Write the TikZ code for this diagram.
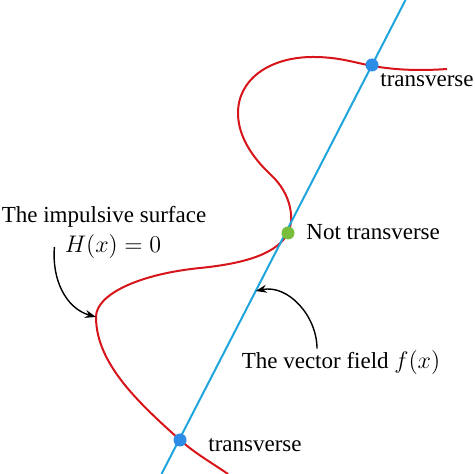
\documentclass[tikz,border=0pt]{standalone}
\usepackage{fontspec}
\setmainfont{Liberation Serif}
\usetikzlibrary{positioning,arrows.meta}

\definecolor{curvered}{RGB}{215,20,25}
\definecolor{fieldblue}{RGB}{30,165,220}
\definecolor{dotblue}{RGB}{45,140,230}
\definecolor{dotgreen}{RGB}{120,190,60}

\begin{document}
\begin{tikzpicture}[
    x=0.5pt, y=0.5pt,
    lbl/.style={inner sep=1pt, font=\fontsize{11.5}{14}\selectfont},
    dot/.style={circle, fill=#1, minimum size=6.5pt, inner sep=0pt},
    surf/.style={draw=curvered, line width=1pt},
    field/.style={draw=fieldblue, line width=1pt},
    arr/.style={-{Stealth[length=5.5pt,width=4pt]}, line width=0.7pt}
]
\useasboundingbox (0,0) rectangle (474,474);
% the surface H(x)=0
\draw[surf] (228,0) .. controls (212,11) and (196,20) .. (180,34)
    .. controls (140,70) and (96,110) .. (96,157) coordinate (surfpt)
    .. controls (96,180) and (140,200) .. (200,206)
    .. controls (250,211) and (278,222) .. (288,241)
    .. controls (294,253) and (293,279) .. (270,300)
    .. controls (252,317) and (238,338) .. (238,361)
    .. controls (238,395) and (270,417) .. (313,417)
    .. controls (340,417) and (355,411) .. (373,408)
    .. controls (395,404) and (420,403) .. (447,405);
% the vector field
\coordinate (ftop) at (405.5,474);
\coordinate (fbot) at (161.5,0);
\draw[field] (ftop) -- (fbot) coordinate[pos=0.614] (fieldpt);
% crossing points
\node[dot=dotblue] (cross1) at (372,409) {};
\node[dot=dotgreen] (touch) at (288,241) {};
\node[dot=dotblue] (cross2) at (180,34) {};
% labels
\node[lbl, anchor=north west] (tr1) at (378,403) {transverse};
\node[lbl, anchor=west] (nottr) at (304,242) {Not transverse};
\node[lbl, anchor=west] (tr2) at (206,29) {transverse};
\node[lbl] (surface) at (104,257) {The impulsive surface};
\node[lbl] (hlabel) at (113,227) {$H(x)=0$};
\node[lbl] (vfield) at (341,111) {The vector field $f(x)$};
% pointers
\draw[arr] ([xshift=-4pt]hlabel.west) to[out=265, in=164] (surfpt);
\draw[arr] ([xshift=-12pt]vfield.north) to[out=90, in=12] (fieldpt);
\end{tikzpicture}
\end{document}
